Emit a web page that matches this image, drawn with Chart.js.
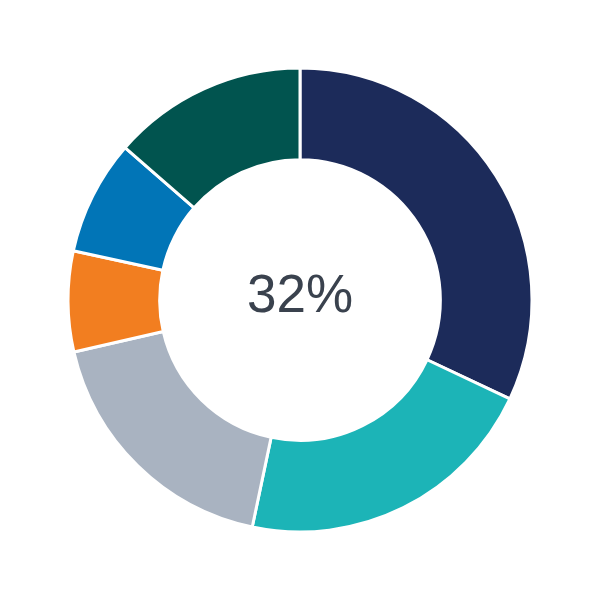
<!DOCTYPE html>
<html>
<head>
<meta charset="utf-8">
<script src="https://cdn.jsdelivr.net/npm/chart.js@4/dist/chart.umd.min.js"></script>
<style>
  html, body { margin: 0; padding: 0; background: #fff; }
  #wrap { width: 600px; height: 600px; }
</style>
</head>
<body>
<div id="wrap"><canvas id="donutChart" width="600" height="600"></canvas></div>
<script>
// slice shares, clockwise from 12 o'clock
const labels = ['Navy', 'Teal', 'Gray', 'Orange', 'Blue', 'Green'];
const values = [32, 21.3, 18.1, 7, 8, 13.6];
const colors = ['#1c2b5a', '#1cb4b7', '#a9b3c1', '#f27e20', '#0175b7', '#01544f'];
const centerLabel = '32%';

// text in the hole
const centerText = {
  id: 'centerText',
  afterDraw(chart) {
    const meta = chart.getDatasetMeta(0);
    if (!meta.data.length) return;
    const { x, y } = meta.data[0];
    const ctx = chart.ctx;
    ctx.save();
    ctx.font = '53px "Liberation Sans", Arial, sans-serif';
    ctx.fillStyle = '#3a424e';
    ctx.textAlign = 'center';
    ctx.textBaseline = 'middle';
    ctx.fillText(centerLabel, x, y - 3);
    ctx.restore();
  }
};

const ctx = document.getElementById('donutChart').getContext('2d');
new Chart(ctx, {
  type: 'doughnut',
  data: {
    labels: labels,
    datasets: [{
      data: values,
      backgroundColor: colors,
      borderColor: '#ffffff',
      borderWidth: 3
    }]
  },
  options: {
    responsive: false,
    animation: false,
    radius: 232,
    cutout: '60.5%',
    plugins: {
      legend: { display: false },
      tooltip: { enabled: false }
    }
  },
  plugins: [centerText]
});
</script>
</body>
</html>
